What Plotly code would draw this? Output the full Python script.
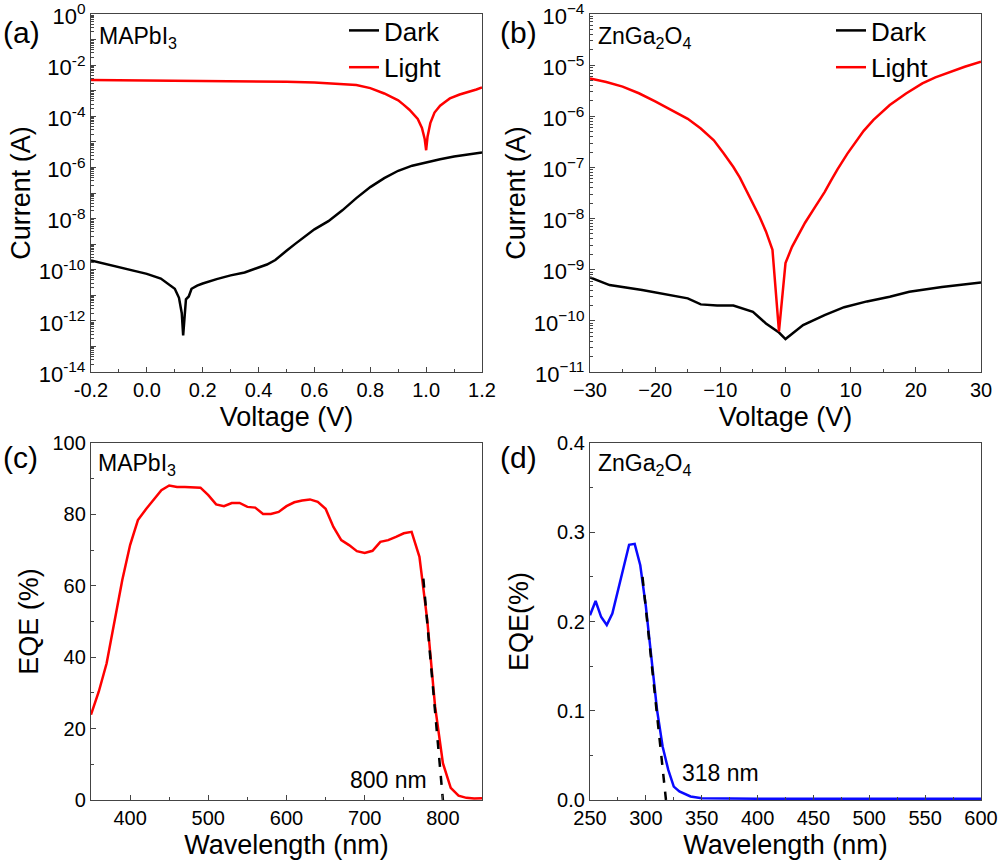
import plotly.graph_objects as go

# ---------------- data ----------------
# (a) MAPbI3 I-V
va_light = [-0.2, 0.2, 0.5, 0.6, 0.7, 0.75, 0.8, 0.825, 0.85, 0.875, 0.9, 0.92, 0.94, 0.97, 0.985, 0.995, 1.0, 1.005, 1.015, 1.03, 1.05, 1.07,
            1.085, 1.12, 1.16, 1.18, 1.2]
ia_light = [2.6e-3, 2.45e-3, 2.24e-3, 2.1e-3, 1.8e-3, 1.66e-3, 1.26e-3, 1.02e-3, 7.8e-4, 5.75e-4, 4.2e-4, 2.8e-4, 1.8e-4, 7.9e-5, 3.5e-5, 1.26e-5,
            4.7e-6, 1.6e-5, 5.4e-5, 1.4e-4, 2.6e-4, 3.8e-4, 5.0e-4, 7.1e-4, 9.3e-4, 1.12e-3, 1.35e-3]

va_dark = [-0.2, -0.15, -0.1, -0.05, 0.0, 0.05, 0.08, 0.1, 0.115, 0.125, 0.13, 0.135, 0.14, 0.15, 0.16, 0.18, 0.2, 0.25, 0.3, 0.35, 0.4, 0.43,
           0.46, 0.48, 0.5, 0.53, 0.55, 0.6, 0.65, 0.7, 0.75, 0.8, 0.85, 0.9, 0.95, 1.0, 1.05, 1.1, 1.15, 1.2]
ia_dark = [2.3e-10, 1.7e-10, 1.25e-10, 9.3e-11, 6.9e-11, 4.5e-11, 2.5e-11, 1.8e-11, 8.0e-12, 2.0e-12, 2.7e-13, 2.0e-12, 7.0e-12, 9.0e-12, 1.8e-11,
           2.4e-11, 2.9e-11, 4.3e-11, 6.0e-11, 7.8e-11, 1.2e-10, 1.6e-10, 2.4e-10, 3.5e-10, 5.5e-10, 1.0e-9, 1.5e-9, 3.8e-9, 7.9e-9, 2.1e-8, 6.3e-8,
           1.7e-7, 3.8e-7, 7.4e-7, 1.17e-6, 1.6e-6, 2.1e-6, 2.7e-6, 3.2e-6, 3.8e-6]

# (b) ZnGa2O4 I-V
vb_light = [-30, -27.5, -25, -22.5, -20, -17.5, -15, -13, -11, -9.5, -8, -7, -6, -5, -4, -3, -2, -1, 0, 1, 2, 3, 4.5, 6, 7, 8, 9.5, 11, 12,
            13.5, 15, 16, 18.5, 21, 23, 25, 27.5, 30]
ib_light = [5.5e-6, 4.68e-6, 3.8e-6, 2.82e-6, 1.95e-6, 1.32e-6, 8.9e-7, 5.75e-7, 3.4e-7, 1.9e-7, 1.02e-7, 6.3e-8, 3.6e-8, 2.0e-8, 1.1e-8, 5.6e-9,
            2.45e-9, 6.2e-11, 1.35e-9, 2.8e-9, 5.0e-9, 8.3e-9, 1.66e-8, 3.3e-8, 5.6e-8, 9.3e-8, 1.86e-7, 3.5e-7, 5.2e-7, 8.5e-7, 1.26e-6, 1.66e-6,
            2.8e-6, 4.4e-6, 5.75e-6, 7.2e-6, 9.3e-6, 1.17e-5]

vb_dark = [-30, -27, -22, -18, -15, -13, -10.5, -8, -5, -3, -1, 0, 1.2, 2.7, 6, 9, 12.5, 16, 19, 24, 30]
ib_dark = [7.1e-10, 5.0e-10, 4.0e-10, 3.2e-10, 2.75e-10, 2.1e-10, 2.0e-10, 2.0e-10, 1.5e-10, 8.9e-11, 5.9e-11, 4.4e-11, 5.8e-11, 8.3e-11, 1.3e-10,
           1.85e-10, 2.4e-10, 2.95e-10, 3.7e-10, 4.6e-10, 5.6e-10]

# (c) MAPbI3 EQE
wl_c = [350, 360, 370, 380, 390, 400, 410, 420, 430, 440, 450, 460, 470, 480, 490, 500, 510, 520, 530, 540, 550, 560, 570, 580, 590, 600,
        610, 620, 630, 640, 650, 660, 670, 680, 690, 700, 710, 720, 730, 740, 750, 760, 770, 780, 790, 800, 810, 820, 830, 840, 850]
eqe_c = [23.9, 30.4, 38.3, 49.5, 61.6, 71.4, 78.4, 81.4, 84.0, 86.8, 88.1, 87.7, 87.7, 87.6, 87.5, 85.4, 82.8, 82.3, 83.2, 83.2, 82.1, 81.9, 80.1, 80.1, 80.7, 82.3,
         83.4, 83.9, 84.2, 83.5, 81.6, 76.5, 72.8, 71.4, 69.7, 69.2, 69.8, 72.3, 72.8, 73.7, 74.7, 75.1, 68.1, 50.4, 26.2, 10.3, 3.4, 1.2, 0.6, 0.4, 0.5]
fit_c_x = [775, 800]
fit_c_y = [62, 0]

# (d) ZnGa2O4 EQE
wl_d = [250, 255, 260, 265, 270, 275, 280, 285, 290, 295, 300, 305, 310, 315, 320, 325, 330, 340, 350, 400, 450, 500, 550, 600]
eqe_d = [0.207, 0.223, 0.205, 0.196, 0.209, 0.235, 0.261, 0.286, 0.287, 0.263, 0.217, 0.161, 0.101, 0.060, 0.034, 0.015, 0.0097, 0.004, 0.002, 0.0015, 0.0015, 0.0015, 0.0015, 0.0015]
fit_d_x = [297, 318]
fit_d_y = [0.25, 0]

# tick labels
a_ytickvals = [10.0 ** e for e in range(-14, 1)]
a_yticktext = [("10<sup>%d</sup>" % e) if e % 2 == 0 else "" for e in range(-14, 1)]
a_xtickvals = [-0.2, 0.0, 0.2, 0.4, 0.6, 0.8, 1.0, 1.2]
a_xticktext = ["-0.2", "0.0", "0.2", "0.4", "0.6", "0.8", "1.0", "1.2"]
b_ytickvals = [10.0 ** e for e in range(-11, -3)]
b_yticktext = ["10<sup>\u2212%d</sup>" % (-e) for e in range(-11, -3)]

# ---------------- figure ----------------
RED = "#ff0000"
BLUE = "#0a0aff"
FONT = "Liberation Sans, Arial, sans-serif"
AX = "#444444"
LW = 2.5

fig = go.Figure()
fig.add_trace(go.Scatter(x=va_dark, y=ia_dark, mode="lines", name="Dark", line=dict(color="black", width=LW), xaxis="x", yaxis="y", legend="legend"))
fig.add_trace(go.Scatter(x=va_light, y=ia_light, mode="lines", name="Light", line=dict(color=RED, width=LW), xaxis="x", yaxis="y", legend="legend"))
fig.add_trace(go.Scatter(x=vb_dark, y=ib_dark, mode="lines", name="Dark", line=dict(color="black", width=LW), xaxis="x2", yaxis="y2", legend="legend2"))
fig.add_trace(go.Scatter(x=vb_light, y=ib_light, mode="lines", name="Light", line=dict(color=RED, width=LW), xaxis="x2", yaxis="y2", legend="legend2"))
fig.add_trace(go.Scatter(x=wl_c, y=eqe_c, mode="lines", line=dict(color=RED, width=LW), xaxis="x3", yaxis="y3", showlegend=False))
fig.add_trace(go.Scatter(x=fit_c_x, y=fit_c_y, mode="lines", line=dict(color="black", width=LW, dash="dash"), xaxis="x3", yaxis="y3", showlegend=False))
fig.add_trace(go.Scatter(x=wl_d, y=eqe_d, mode="lines", line=dict(color=BLUE, width=LW), xaxis="x4", yaxis="y4", showlegend=False))
fig.add_trace(go.Scatter(x=fit_d_x, y=fit_d_y, mode="lines", line=dict(color="black", width=LW, dash="dash"), xaxis="x4", yaxis="y4", showlegend=False))

W, H = 1000, 862
def px_x(p):
    return p / W
def px_y(p):
    return 1 - p / H

dom_left = [px_x(91), px_x(482)]
dom_right = [px_x(590), px_x(981)]
dom_top = [px_y(372), px_y(14)]
dom_bot = [px_y(800), px_y(443)]

linfont = dict(family=FONT, size=20, color="black")
logfont = dict(family=FONT, size=22, color="black")
titlefont = dict(family=FONT, size=27, color="black")

def axis(**kw):
    d = dict(showline=True, linecolor=AX, linewidth=1.3, mirror=True, ticks="inside", ticklen=5, tickcolor=AX,
             tickwidth=1.2, showgrid=False, zeroline=False, tickfont=linfont, automargin=False, ticklabeloverflow="allow")
    d.update(kw)
    return d

minor_lin = dict(ticks="inside", ticklen=3, tickcolor=AX, tickwidth=1.2, showgrid=False)
minor_log = dict(ticks="inside", ticklen=3, tickcolor=AX, tickwidth=1, showgrid=False, dtick="D1")

fig.update_layout(
    width=W, height=H, margin=dict(l=0, r=0, t=0, b=0, autoexpand=False),
    paper_bgcolor="white", plot_bgcolor="white",
    font=dict(family=FONT, color="black"),
    xaxis=axis(domain=dom_left, anchor="y", range=[-0.2, 1.2], tickmode="array", tickvals=a_xtickvals, ticktext=a_xticktext,
               minor=dict(minor_lin, dtick=0.1), title=dict(text="Voltage (V)", font=titlefont, standoff=6)),
    yaxis=axis(domain=dom_top, anchor="x", type="log", range=[-14, 0], tickmode="array", tickvals=a_ytickvals, ticktext=a_yticktext,
               tickfont=logfont, ticklabelshift=2, minor=minor_log, title=dict(text="Current (A)", font=titlefont, standoff=0)),
    xaxis2=axis(domain=dom_right, anchor="y2", range=[-30, 30], dtick=10, minor=dict(minor_lin, dtick=5),
                title=dict(text="Voltage (V)", font=titlefont, standoff=6)),
    yaxis2=axis(domain=dom_top, anchor="x2", type="log", range=[-11, -4], tickmode="array", tickvals=b_ytickvals, ticktext=b_yticktext,
                tickfont=logfont, ticklabelshift=2, minor=minor_log, title=dict(text="Current (A)", font=titlefont, standoff=0)),
    xaxis3=axis(domain=dom_left, anchor="y3", range=[350, 850], dtick=100, tick0=0, minor=dict(minor_lin, dtick=50),
                title=dict(text="Wavelength (nm)", font=titlefont, standoff=6)),
    yaxis3=axis(domain=dom_bot, anchor="x3", range=[0, 100], dtick=20, minor=dict(minor_lin, dtick=10),
                title=dict(text="EQE (%)", font=titlefont, standoff=6)),
    xaxis4=axis(domain=dom_right, anchor="y4", range=[250, 600], dtick=50, minor=dict(minor_lin, dtick=25),
                title=dict(text="Wavelength (nm)", font=titlefont, standoff=6)),
    yaxis4=axis(domain=dom_bot, anchor="x4", range=[0, 0.4], dtick=0.1, tickformat=".1f", minor=dict(minor_lin, dtick=0.05),
                title=dict(text="EQE(%)", font=titlefont, standoff=20)),
    legend=dict(x=px_x(344), y=px_y(7), xanchor="left", yanchor="top", bgcolor="rgba(0,0,0,0)",
                font=dict(family=FONT, size=26, color="black"), tracegroupgap=0),
    legend2=dict(x=px_x(831), y=px_y(7), xanchor="left", yanchor="top", bgcolor="rgba(0,0,0,0)",
                 font=dict(family=FONT, size=26, color="black"), tracegroupgap=0),
)

labfont = dict(family=FONT, size=30, color="black")
matfont = dict(family=FONT, size=23, color="black")
ann = [
    dict(text="(a)", x=px_x(1), y=px_y(33), xanchor="left", yanchor="middle", font=labfont),
    dict(text="(b)", x=px_x(498), y=px_y(33), xanchor="left", yanchor="middle", font=labfont),
    dict(text="(c)", x=px_x(1), y=px_y(457), xanchor="left", yanchor="middle", font=labfont),
    dict(text="(d)", x=px_x(498), y=px_y(457), xanchor="left", yanchor="middle", font=labfont),
    dict(text="MAPbI<sub>3</sub>", x=px_x(97), y=px_y(37), xanchor="left", yanchor="middle", font=matfont),
    dict(text="ZnGa<sub>2</sub>O<sub>4</sub>", x=px_x(596), y=px_y(37), xanchor="left", yanchor="middle", font=matfont),
    dict(text="MAPbI<sub>3</sub>", x=px_x(96), y=px_y(465), xanchor="left", yanchor="middle", font=matfont),
    dict(text="ZnGa<sub>2</sub>O<sub>4</sub>", x=px_x(596), y=px_y(465), xanchor="left", yanchor="middle", font=matfont),
]
for a in ann:
    a.update(xref="paper", yref="paper", showarrow=False)
fig.update_layout(annotations=ann)
fig.add_annotation(text="800 nm", x=782, y=5.7, xref="x3", yref="y3", xanchor="right", yanchor="middle", showarrow=False,
                   font=dict(family=FONT, size=23, color="black"))
fig.add_annotation(text="318 nm", x=331, y=0.030, xref="x4", yref="y4", xanchor="left", yanchor="middle", showarrow=False,
                   font=dict(family=FONT, size=23, color="black"))

fig.write_html("out.html")
